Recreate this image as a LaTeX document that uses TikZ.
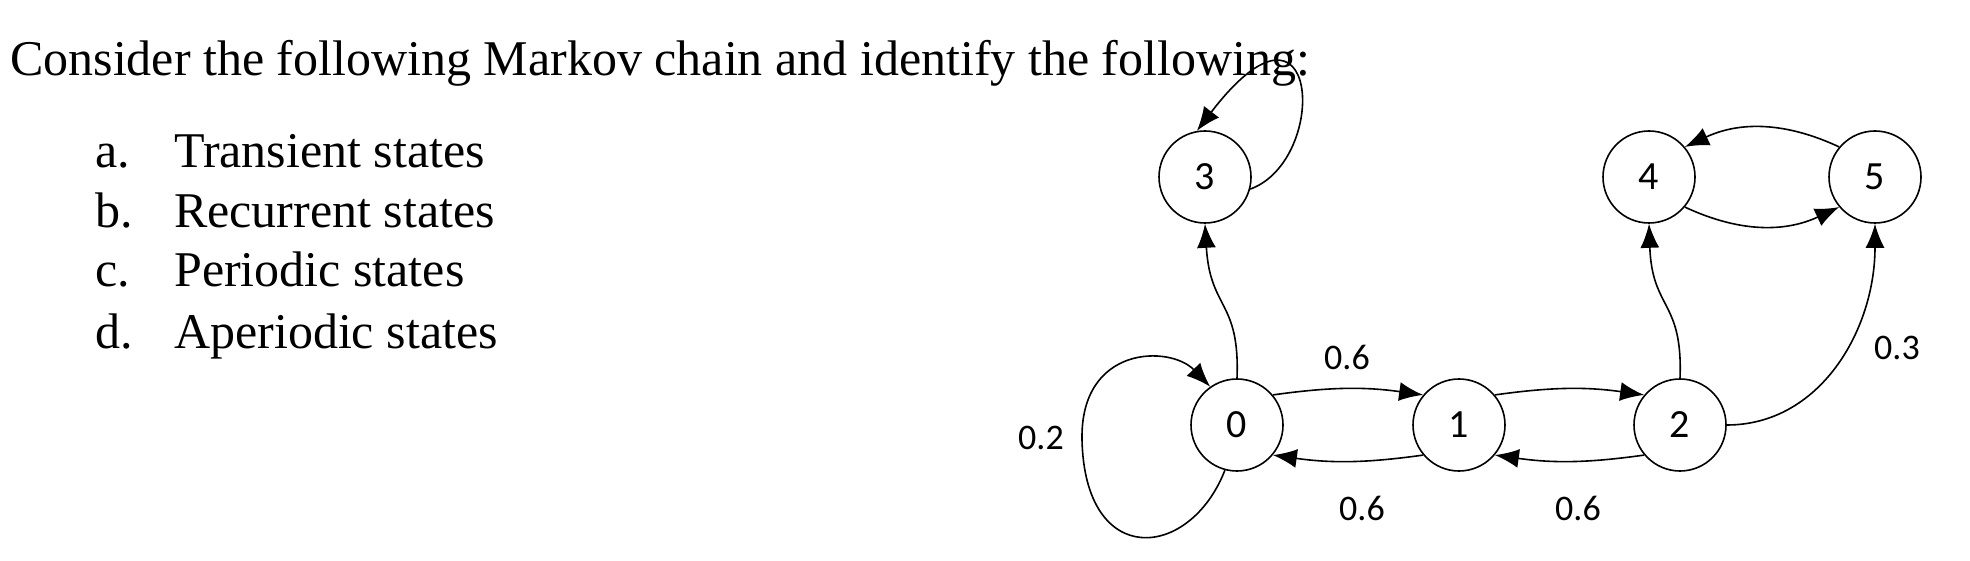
\documentclass[tikz,border=0pt]{standalone}
\usepackage{fontspec}
\setmainfont{Liberation Serif}
\newfontfamily\nodefont{Carlito}
\usetikzlibrary{arrows.meta}
\begin{document}
\begin{tikzpicture}[x=1pt,y=1pt,
  st/.style={circle,draw,line width=1.6pt,minimum size=92pt,inner sep=0pt,font=\nodefont\fontsize{40}{42}\selectfont},
  lab/.style={font=\nodefont\fontsize{36}{38}\selectfont},
  txt/.style={anchor=base west,inner sep=0pt,font=\fontsize{50}{56}\selectfont},
  ed/.style={line width=1.6pt,-{Latex[length=24pt,width=19pt]}}]
\useasboundingbox (0,0) rectangle (1970,560);
\node[txt] (title) at (10,484) {Consider the following Markov chain and identify the following:};
\node[txt] (la) at (95,392) {a.};\node[txt] (ta) at (174,392) {Transient states};
\node[txt] (lb) at (95,332) {b.};\node[txt] (tb) at (174,332) {Recurrent states};
\node[txt] (lc) at (95,273) {c.};\node[txt] (tc) at (174,273) {Periodic states};
\node[txt] (ld) at (95,211) {d.};\node[txt] (td) at (174,211) {Aperiodic states};
\node[st] (n0) at (1237,135) {0};
\node[st] (n1) at (1459,135) {1};
\node[st] (n2) at (1680,135) {2};
\node[st] (n3) at (1205,383) {3};
\node[st] (n4) at (1649,383) {4};
\node[st] (n5) at (1875,383) {5};
\draw[ed] (n0.40) to[bend left=8] (n1.140);
\draw[ed] (n1.40) to[bend left=8] (n2.140);
\draw[ed] (n1.-140) to[bend left=8] (n0.-40);
\draw[ed] (n2.-140) to[bend left=8] (n1.-40);
\draw[ed] (n0.-105) .. controls (1190,0) and (1085,-10) .. (1082,120) .. controls (1080,215) and (1170,215) .. (n0.125);
\draw[ed] (n0.90) .. controls (1240,260) and (1210,250) .. (n3.-90);
\draw[ed] (n2.90) .. controls (1683,260) and (1652,250) .. (n4.-90);
\draw[ed] (n2.0) .. controls (1820,135) and (1875,230) .. (n5.-90);
\draw[ed] (n3.-15) .. controls (1330,400) and (1320,590) .. (n3.100);
\draw[ed] (n4.-40) to[bend right=25] (n5.-140);
\draw[ed] (n5.140) to[bend right=25] (n4.40);
\node[lab] (l01) at (1347,203) {0.6};
\node[lab] (l10) at (1362,52) {0.6};
\node[lab] (l21) at (1578,52) {0.6};
\node[lab] (l25) at (1897,212) {0.3};
\node[lab] (l00) at (1041,122) {0.2};
\end{tikzpicture}
\end{document}
